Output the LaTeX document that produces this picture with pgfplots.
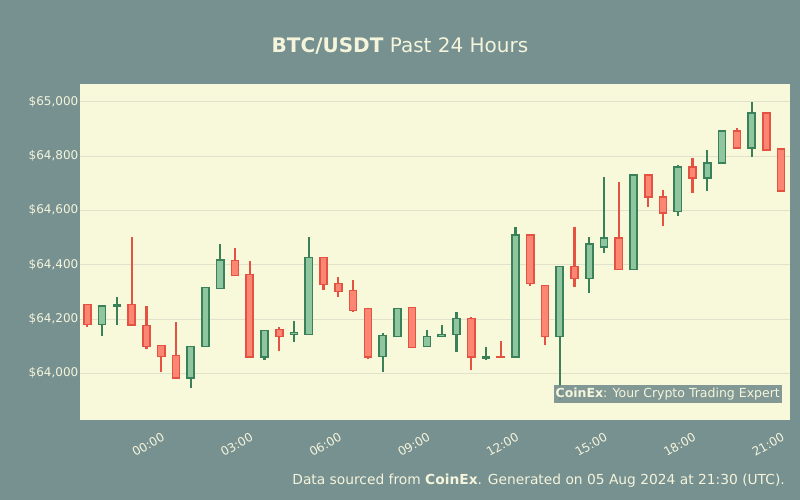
\documentclass[border=0pt]{standalone}
\usepackage{pgfplots}
\pgfplotsset{compat=1.18}
\usepackage{pgfplotstable}
\usepackage{fontspec}
\setmainfont{DejaVu Sans}

\definecolor{outerbg}{RGB}{119,144,144}
\definecolor{plotbg}{RGB}{248,248,218}
\definecolor{gridc}{RGB}{226,226,204}
\definecolor{txt}{RGB}{245,245,220}
\definecolor{upedge}{RGB}{58,128,88}
\definecolor{upfill}{RGB}{143,198,160}
\definecolor{dnedge}{RGB}{228,82,66}
\definecolor{dnfill}{RGB}{252,134,116}

% green (close > open) candles: x open high low close
\pgfplotstableread{
x o h l c
1 64180 64247 64139 64247
2 64247 64279 64176 64253
7 63982 64099 63945 64099
8 64099 64316 64099 64316
9 64312 64477 64312 64418
12 64059 64158 64048 64158
14 64143 64191 64114 64150
15 64143 64503 64143 64426
20 64062 64150 64004 64139
21 64136 64239 64132 64239
23 64099 64158 64099 64136
24 64136 64176 64136 64143
25 64143 64224 64077 64202
27 64057 64095 64048 64062
29 64059 64539 64055 64510
32 64136 64393 63900 64393
34 64349 64503 64297 64477
35 64466 64723 64444 64499
37 64382 64730 64382 64730
40 64595 64767 64580 64760
42 64719 64822 64672 64774
43 64774 64892 64774 64892
45 64829 64998 64796 64958
}\up

% red (close < open) candles: x open high low close
\pgfplotstableread{
x o h l c
0 64253 64253 64172 64180
3 64253 64503 64176 64178
4 64176 64246 64088 64099
5 64103 64103 64004 64062
6 64066 64187 63980 63982
10 64415 64462 64360 64360
11 64363 64415 64059 64059
13 64161 64169 64081 64136
16 64426 64426 64305 64327
17 64330 64356 64279 64301
18 64305 64345 64224 64231
19 64239 64239 64051 64059
22 64242 64242 64092 64095
26 64202 64209 64011 64059
28 64062 64117 64057 64058
30 64510 64510 64323 64330
31 64323 64323 64103 64136
33 64393 64539 64316 64349
36 64499 64705 64382 64382
38 64730 64730 64613 64650
39 64650 64675 64543 64591
41 64760 64793 64664 64719
44 64892 64903 64829 64829
46 64958 64958 64822 64822
47 64826 64826 64672 64672
}\down

\pgfplotsset{
  common/.style={
    at={(80bp,80bp)}, anchor=south west,
    scale only axis, width=710bp, height=336bp,
    xmin=-0.5, xmax=47.6, ymin=63828, ymax=65065,
  },
}

\begin{document}
\begin{tikzpicture}
\useasboundingbox (0,0) rectangle (800bp,500bp);
\fill[outerbg] (0,0) rectangle (800bp,500bp);

% main axis: background, grid, ticks, wicks
\begin{axis}[common,
  axis background/.style={fill=plotbg},
  axis line style={draw=none},
  major tick length=0pt,
  ymajorgrids, major grid style={gridc, line width=0.9bp},
  ytick={64000,64200,64400,64600,64800,65000},
  scaled y ticks=false,
  yticklabel={\$\pgfmathprintnumber{\tick}},
  /pgf/number format/.cd, fixed, precision=0, 1000 sep={,}, assume math mode=true,
  /pgfplots/.cd,
  yticklabel style={font=\fontsize{12bp}{14bp}\selectfont, text=txt, inner sep=1.5bp},
  xtick={5,11,17,23,29,35,41,47},
  xticklabels={00:00,03:00,06:00,09:00,12:00,15:00,18:00,21:00},
  xticklabel style={font=\fontsize{12bp}{14bp}\selectfont, text=txt, rotate=30,
    anchor=north east, inner sep=1bp, yshift=-9bp, xshift=-5bp},
]
\addplot[draw=none, no markers,
  error bars/.cd, y dir=plus, y explicit, error mark=none,
  error bar style={draw=upedge, line width=2.2bp, solid}]
  table[x=x, y=l, y error plus expr=\thisrow{h}-\thisrow{l}] {\up};
\addplot[draw=none, no markers,
  error bars/.cd, y dir=plus, y explicit, error mark=none,
  error bar style={draw=dnedge, line width=2.2bp, solid}]
  table[x=x, y=l, y error plus expr=\thisrow{h}-\thisrow{l}] {\down};
\end{axis}

% rising candle bodies
\begin{axis}[common, hide axis, ybar stacked, bar width=0.48]
\addplot[draw=none, fill=none] table[x=x, y=o] {\up};
\addplot[draw=upedge, fill=upfill, line width=1.6bp] table[x=x, y expr=\thisrow{c}-\thisrow{o}] {\up};
\end{axis}

% falling candle bodies
\begin{axis}[common, hide axis, ybar stacked, bar width=0.48]
\addplot[draw=none, fill=none] table[x=x, y=c] {\down};
\addplot[draw=dnedge, fill=dnfill, line width=1.6bp] table[x=x, y expr=\thisrow{o}-\thisrow{c}] {\down};
\end{axis}

\node[fill=outerbg, fill opacity=0.92, text opacity=1, text=txt, anchor=south east,
  inner xsep=2bp, inner ysep=3bp, font=\fontsize{12.5bp}{14bp}\selectfont]
  at (782bp,97bp) {\textbf{CoinEx}: Your Crypto Trading Expert};

\node[text=txt, anchor=base] at (400bp,447bp)
  {\fontsize{20bp}{24bp}\selectfont\textbf{BTC/USDT} Past 24 Hours};

\node[text=txt, anchor=base east, inner sep=0pt] at (785bp,16bp)
  {\fontsize{13.8bp}{16bp}\selectfont Data sourced from \textbf{CoinEx}. Generated on 05 Aug 2024 at 21:30 (UTC).};
\end{tikzpicture}
\end{document}
